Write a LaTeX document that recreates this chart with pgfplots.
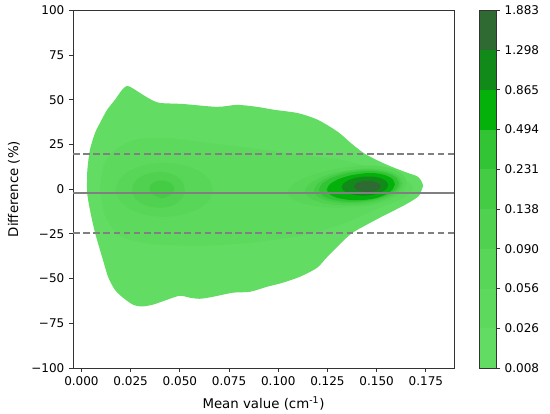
\documentclass[border=0pt]{standalone}
\usepackage{pgfplots}
\pgfplotsset{compat=1.18}
\usepackage{fontspec}
\setmainfont{DejaVu Sans}
\definecolor{c1}{HTML}{62DC62}
\definecolor{c2}{HTML}{5DDA5D}
\definecolor{c3}{HTML}{57D657}
\definecolor{c4}{HTML}{50D250}
\definecolor{c5}{HTML}{44CC44}
\definecolor{c6}{HTML}{32C434}
\definecolor{c7}{HTML}{04B00A}
\definecolor{c8}{HTML}{128A1A}
\definecolor{c9}{HTML}{2E6A32}
\definecolor{refgray}{HTML}{808080}
\newcommand{\tfont}{\fontsize{9}{10}\selectfont}
\begin{document}
\begin{tikzpicture}
\useasboundingbox (0,0) rectangle (412.5pt,310.5pt);
\begin{axis}[
  at={(54.75pt,34.5pt)}, anchor=south west,
  scale only axis, width=285.75pt, height=268.3pt,
  xmin=-0.0043, xmax=0.1893, ymin=-100, ymax=100,
  xtick={0,0.025,0.05,0.075,0.1,0.125,0.15,0.175},
  xticklabels={0.000,0.025,0.050,0.075,0.100,0.125,0.150,0.175},
  ytick={-100,-75,-50,-25,0,25,50,75,100},
  yticklabels={−100,−75,−50,−25,0,25,50,75,100},
  tick pos=left, tick align=outside, major tick length=3pt,
  tick style={black!80, line width=0.6pt},
  axis line style={black!80, line width=0.6pt},
  tick label style={font=\tfont},
  label style={font=\tfont},
  xlabel={Mean value (cm\textsuperscript{-1})},
  ylabel={Difference (\%)},
  every axis x label/.style={at={(axis description cs:0.5,-0.098)}, anchor=center},
  every axis y label/.style={at={(axis description cs:-0.155,0.5)}, rotate=90, anchor=center},
  clip=true,
  every axis plot/.append style={smooth, tension=0.45},
]
% level 0.008
\addplot[fill=c1, draw=none] coordinates {
(0.0028,1.3) (0.0030,10.8) (0.0043,22.0) (0.0069,31.4) (0.0094,37.0) (0.0130,44.3) (0.0170,49.9) (0.0206,55.5) (0.0231,57.7) (0.0257,56.6) (0.0297,53.8) (0.0348,50.4) (0.0399,48.2) (0.0516,47.6) (0.0689,46.0) (0.0790,47.1) (0.0892,46.0) (0.0983,44.3) (0.1100,42.5) (0.1202,38.7) (0.1303,32.0) (0.1374,25.3) (0.1441,19.7) (0.1542,14.1) (0.1644,9.6) (0.1710,6.9) (0.1735,2.4) (0.1725,-1.5) (0.1710,-4.3) (0.1644,-8.8) (0.1542,-14.5) (0.1456,-19.5) (0.1364,-25.5) (0.1250,-37.8) (0.1197,-44.0) (0.1110,-49.0) (0.1024,-52.3) (0.0943,-54.6) (0.0856,-57.4) (0.0770,-57.9) (0.0668,-60.2) (0.0602,-61.3) (0.0551,-60.7) (0.0500,-59.6) (0.0434,-61.9) (0.0363,-64.6) (0.0307,-65.6) (0.0262,-64.6) (0.0211,-60.7) (0.0170,-56.3) (0.0135,-49.0) (0.0109,-39.5) (0.0069,-24.4) (0.0043,-11.6) (0.0030,-3.2) (0.0028,1.3)
};
% level 0.026
\addplot[fill=c2, draw=none] coordinates {
(0.0094,0.17) (0.0114,13.58) (0.0170,21.96) (0.0272,27.54) (0.0424,28.66) (0.0602,26.42) (0.0856,23.07) (0.1110,19.16) (0.1313,16.37) (0.1516,10.78) (0.1644,5.20) (0.1685,0.73) (0.1644,-4.30) (0.1516,-10.45) (0.1313,-19.94) (0.1110,-26.09) (0.0856,-30.00) (0.0602,-31.68) (0.0348,-30.56) (0.0196,-26.09) (0.0119,-14.36) (0.0094,0.17)
};
% level 0.056
\addplot[fill=c3, draw=none] coordinates {
(0.0668,-0.39) (0.0649,5.39) (0.0594,10.27) (0.0511,13.54) (0.0414,14.69) (0.0323,13.54) (0.0245,10.27) (0.0193,5.39) (0.0175,-0.39) (0.0193,-6.17) (0.0245,-11.05) (0.0323,-14.32) (0.0414,-15.47) (0.0511,-14.32) (0.0594,-11.05) (0.0649,-6.17) (0.0668,-0.39)
};
\addplot[fill=c3, draw=none] coordinates {
(0.1654,3.40) (0.1636,7.71) (0.1584,11.06) (0.1507,12.92) (0.1415,13.01) (0.1275,10.89) (0.1156,7.29) (0.1077,2.80) (0.1049,-1.94) (0.1077,-5.97) (0.1156,-8.90) (0.1275,-10.27) (0.1415,-9.89) (0.1507,-8.24) (0.1584,-5.13) (0.1636,-1.06) (0.1654,3.40)
};
% level 0.090
\addplot[fill=c4, draw=none] coordinates {
(0.0526,-0.39) (0.0516,3.46) (0.0489,6.72) (0.0448,8.91) (0.0399,9.67) (0.0344,8.91) (0.0298,6.72) (0.0267,3.46) (0.0257,-0.39) (0.0267,-4.24) (0.0298,-7.50) (0.0344,-9.69) (0.0399,-10.45) (0.0448,-9.69) (0.0489,-7.50) (0.0516,-4.24) (0.0526,-0.39)
};
\addplot[fill=c4, draw=none] coordinates {
(0.1634,3.20) (0.1617,6.91) (0.1570,9.75) (0.1499,11.32) (0.1415,11.34) (0.1308,9.64) (0.1217,6.65) (0.1157,2.86) (0.1136,-1.18) (0.1157,-4.84) (0.1217,-7.57) (0.1308,-8.96) (0.1415,-8.78) (0.1499,-7.28) (0.1570,-4.47) (0.1617,-0.79) (0.1634,3.20)
};
% level 0.138
\addplot[fill=c5, draw=none] coordinates {
(0.0472,0.17) (0.0467,1.95) (0.0453,3.45) (0.0432,4.46) (0.0408,4.81) (0.0384,4.46) (0.0363,3.45) (0.0349,1.95) (0.0345,0.17) (0.0349,-1.61) (0.0363,-3.11) (0.0384,-4.12) (0.0408,-5.2) (0.0432,-4.4) (0.0453,-3.11) (0.0467,-1.61) (0.0472,0.17)
};
\addplot[fill=c5, draw=none] coordinates {
(0.1623,3.11) (0.1608,6.61) (0.1562,9.30) (0.1495,10.76) (0.1415,10.78) (0.1326,9.27) (0.1250,6.55) (0.1199,3.02) (0.1181,-0.78) (0.1199,-4.04) (0.1250,-6.49) (0.1326,-7.77) (0.1415,-7.66) (0.1495,-6.28) (0.1562,-3.74) (0.1608,-0.45) (0.1623,3.11)
};
% level 0.231
\addplot[fill=c6, draw=none] coordinates {
(0.1613,3.26) (0.1598,6.34) (0.1557,8.68) (0.1494,9.95) (0.1420,9.94) (0.1338,8.58) (0.1269,6.15) (0.1223,3.03) (0.1207,-0.32) (0.1223,-3.39) (0.1269,-5.69) (0.1338,-6.90) (0.1420,-6.82) (0.1494,-5.53) (0.1557,-3.16) (0.1598,-0.08) (0.1613,3.26)
};
% level 0.494
\addplot[fill=c7, draw=none] coordinates {
(0.1593,2.79) (0.1581,5.54) (0.1548,7.65) (0.1499,8.83) (0.1441,8.88) (0.1367,7.67) (0.1304,5.50) (0.1262,2.73) (0.1247,-0.25) (0.1262,-2.97) (0.1304,-5.00) (0.1367,-6.07) (0.1441,-5.98) (0.1499,-4.91) (0.1548,-2.85) (0.1581,-0.16) (0.1593,2.79)
};
% level 0.865
\addplot[fill=c8, draw=none] coordinates {
(0.1559,2.30) (0.1550,4.28) (0.1526,5.88) (0.1489,6.86) (0.1446,7.04) (0.1398,6.40) (0.1358,5.04) (0.1332,3.19) (0.1322,1.11) (0.1332,-0.87) (0.1358,-2.46) (0.1398,-3.42) (0.1446,-3.58) (0.1489,-2.96) (0.1526,-1.62) (0.1550,0.22) (0.1559,2.30)
};
% level 1.298
\addplot[fill=c9, draw=none] coordinates {
(0.1520,1.51) (0.1515,2.71) (0.1500,3.72) (0.1478,4.40) (0.1452,4.64) (0.1426,4.40) (0.1404,3.72) (0.1390,2.71) (0.1385,1.51) (0.1390,0.31) (0.1404,-0.70) (0.1426,-1.38) (0.1452,-1.62) (0.1478,-1.38) (0.1500,-0.70) (0.1515,0.31) (0.1520,1.51)
};
% mean and limits of agreement
\addplot[refgray, line width=1.5pt, sharp plot] coordinates {(-0.0043,-2.2) (0.1893,-2.2)};
\addplot[refgray, line width=1.3pt, sharp plot, dash pattern=on 5pt off 2.6pt] coordinates {(-0.0043,19.8) (0.1893,19.8)};
\addplot[refgray, line width=1.3pt, sharp plot, dash pattern=on 5pt off 2.6pt] coordinates {(-0.0043,-24.6) (0.1893,-24.6)};
\end{axis}
\begin{axis}[
  at={(359.5pt,34.5pt)}, anchor=south west,
  scale only axis, width=12.5pt, height=268.3pt,
  xmin=0, xmax=1, ymin=0, ymax=9,
  xtick=\empty,
  ytick={0,1,2,3,4,5,6,7,8,9},
  yticklabels={0.008,0.026,0.056,0.090,0.138,0.231,0.494,0.865,1.298,1.883},
  ytick pos=right, yticklabel pos=right,
  tick align=outside, major tick length=3pt,
  tick style={black!80, line width=0.6pt},
  axis line style={black!80, line width=0.6pt},
  tick label style={font=\tfont},
  axis on top,
]
\addplot[fill=c1, draw=none] coordinates {(0,0) (1,0) (1,1) (0,1)};
\addplot[fill=c2, draw=none] coordinates {(0,1) (1,1) (1,2) (0,2)};
\addplot[fill=c3, draw=none] coordinates {(0,2) (1,2) (1,3) (0,3)};
\addplot[fill=c4, draw=none] coordinates {(0,3) (1,3) (1,4) (0,4)};
\addplot[fill=c5, draw=none] coordinates {(0,4) (1,4) (1,5) (0,5)};
\addplot[fill=c6, draw=none] coordinates {(0,5) (1,5) (1,6) (0,6)};
\addplot[fill=c7, draw=none] coordinates {(0,6) (1,6) (1,7) (0,7)};
\addplot[fill=c8, draw=none] coordinates {(0,7) (1,7) (1,8) (0,8)};
\addplot[fill=c9, draw=none] coordinates {(0,8) (1,8) (1,9) (0,9)};
\end{axis}
\end{tikzpicture}
\end{document}
